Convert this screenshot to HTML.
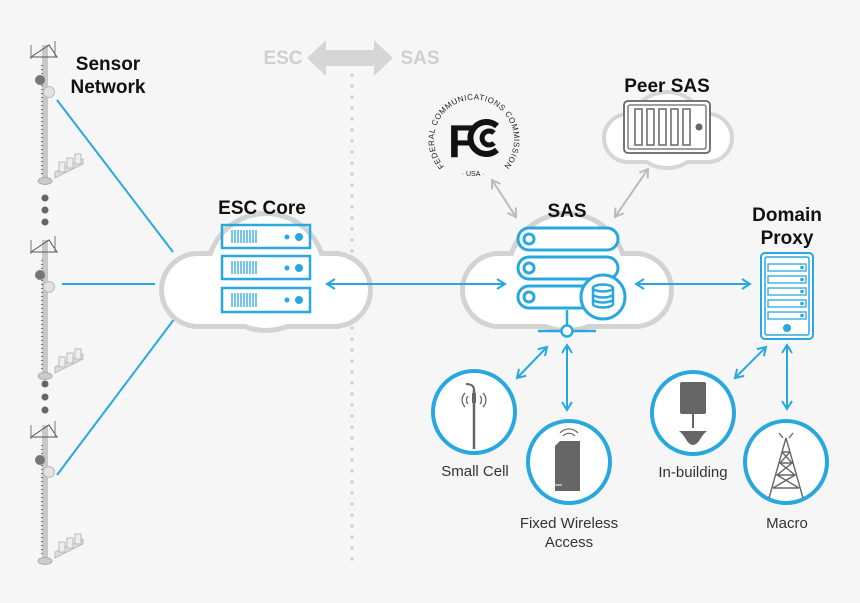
<!DOCTYPE html>
<html><head><meta charset="utf-8"><style>
html,body{margin:0;padding:0;background:#f6f6f6;}
svg{display:block;font-family:"Liberation Sans",sans-serif;}
</style></head><body>
<svg width="860" height="603" viewBox="0 0 860 603" xmlns="http://www.w3.org/2000/svg">
<defs>
<marker id="ab" markerWidth="12" markerHeight="12" refX="9" refY="6" orient="auto-start-reverse" markerUnits="userSpaceOnUse"><path d="M1,1 L9,6 L1,11" fill="none" stroke="#29a8e0" stroke-width="2"/></marker>
<marker id="ag" markerWidth="12" markerHeight="12" refX="9" refY="6" orient="auto-start-reverse" markerUnits="userSpaceOnUse"><path d="M1,1 L9,6 L1,11" fill="none" stroke="#bbb" stroke-width="2"/></marker>
<g id="tower">
 <rect x="-3" y="0" width="6" height="135" fill="#c8c8c8"/>
 <line x1="-3" y1="20" x2="-3" y2="130" stroke="#777" stroke-width="2" stroke-dasharray="1 3"/>
 <path d="M-14,12 L4,0 L12,12 Z" fill="none" stroke="#555" stroke-width="1"/>
 <line x1="-14" y1="0" x2="-14" y2="14" stroke="#777"/><line x1="10" y1="-4" x2="10" y2="12" stroke="#777"/>
 <circle cx="-5" cy="35" r="5" fill="#777"/><circle cx="4" cy="47" r="5.5" fill="#e2e2e2" stroke="#bbb"/>
 <ellipse cx="0" cy="136" rx="7" ry="3.5" fill="#ccc" stroke="#aaa"/>
 <path d="M10,127 L38,114 L38,119 L10,133 Z" fill="#ddd" stroke="#bbb"/>
 <rect x="14" y="117" width="6" height="10" fill="#eee" stroke="#bbb"/><rect x="22" y="113" width="6" height="10" fill="#eee" stroke="#bbb"/><rect x="30" y="109" width="6" height="10" fill="#eee" stroke="#bbb"/>
</g>
<g id="cloudg">
 <circle cx="266" cy="272" r="56"/><circle cx="198" cy="290" r="34"/><circle cx="334" cy="290" r="34"/><rect x="198" y="256" width="136" height="68"/>
</g>
</defs>

<use href="#tower" x="45" y="45"/>
<use href="#tower" x="45" y="240"/>
<use href="#tower" x="45" y="425"/>
<g fill="#666"><circle cx="45" cy="198" r="3.5"/><circle cx="45" cy="210" r="3.5"/><circle cx="45" cy="222" r="3.5"/>
<circle cx="45" cy="384" r="3.5"/><circle cx="45" cy="397" r="3.5"/><circle cx="45" cy="410" r="3.5"/></g>
<text x="108" y="70" font-size="19" font-weight="bold" text-anchor="middle" fill="#111">Sensor</text>
<text x="108" y="93" font-size="19" font-weight="bold" text-anchor="middle" fill="#111">Network</text>

<text x="283" y="64" font-size="19" font-weight="bold" text-anchor="middle" fill="#cfcfcf">ESC</text>
<text x="420" y="64" font-size="19" font-weight="bold" text-anchor="middle" fill="#cfcfcf">SAS</text>
<path d="M307,58 L326,40 L326,50 L374,50 L374,40 L393,58 L374,76 L374,66 L326,66 L326,76 Z" fill="#d6d6d6"/>
<line x1="352" y1="75" x2="352" y2="560" stroke="#d0d0d0" stroke-width="3.5" stroke-linecap="round" stroke-dasharray="0 11"/>

<g stroke="#29a8e0" stroke-width="2" fill="none">
<line x1="57" y1="100" x2="173" y2="252"/>
<line x1="62" y1="284" x2="155" y2="284"/>
<line x1="57" y1="475" x2="175" y2="318"/>
</g>

<!-- clouds -->
<g fill="#d3d3d3" stroke="#d3d3d3" stroke-width="10"><use href="#cloudg"/><use href="#cloudg" x="301"/></g>
<g fill="#fff"><use href="#cloudg"/><use href="#cloudg" x="301"/></g>

<!-- ESC Core -->
<text x="262" y="214" font-size="19" font-weight="bold" text-anchor="middle" fill="#111">ESC Core</text>
<g stroke="#29a8e0" fill="none" stroke-width="2.5">
<rect x="222" y="225" width="88" height="23"/><rect x="222" y="256" width="88" height="23"/><rect x="222" y="288" width="88" height="24"/>
</g>
<g stroke="#29a8e0" stroke-width="1.3">
<path d="M232,230v13M235,230v13M238,230v13M241,230v13M244,230v13M247,230v13M250,230v13M253,230v13M256,230v13"/>
<path d="M232,261v13M235,261v13M238,261v13M241,261v13M244,261v13M247,261v13M250,261v13M253,261v13M256,261v13"/>
<path d="M232,293v14M235,293v14M238,293v14M241,293v14M244,293v14M247,293v14M250,293v14M253,293v14M256,293v14"/>
</g>
<g fill="#29a8e0"><circle cx="287" cy="237" r="2.5"/><circle cx="299" cy="237" r="4"/><circle cx="287" cy="268" r="2.5"/><circle cx="299" cy="268" r="4"/><circle cx="287" cy="300" r="2.5"/><circle cx="299" cy="300" r="4"/></g>

<line x1="327" y1="284" x2="505" y2="284" stroke="#29a8e0" stroke-width="2" marker-start="url(#ab)" marker-end="url(#ab)"/>

<!-- SAS -->
<text x="567" y="217" font-size="19" font-weight="bold" text-anchor="middle" fill="#111">SAS</text>
<g stroke="#29a8e0" fill="#fff" stroke-width="3">
<rect x="518" y="228" width="100" height="22" rx="11"/><rect x="518" y="257" width="100" height="22" rx="11"/><rect x="518" y="286" width="100" height="22" rx="11"/>
<circle cx="529" cy="239" r="5"/><circle cx="529" cy="268" r="5"/><circle cx="529" cy="297" r="5"/>
<circle cx="603" cy="297" r="22"/>
</g>
<g stroke="#29a8e0" fill="none" stroke-width="2.5">
<ellipse cx="603" cy="288" rx="10" ry="3.5"/><path d="M593,288v16a10,3.5 0 0 0 20,0v-16M593,294a10,3.5 0 0 0 20,0M593,299a10,3.5 0 0 0 20,0"/>
<line x1="567" y1="310" x2="567" y2="325"/><line x1="538" y1="331" x2="596" y2="331"/>
</g>
<circle cx="567" cy="331" r="5.5" fill="#fff" stroke="#29a8e0" stroke-width="2.5"/>

<line x1="636" y1="284" x2="750" y2="284" stroke="#29a8e0" stroke-width="2" marker-start="url(#ab)" marker-end="url(#ab)"/>

<!-- Domain Proxy -->
<text x="787" y="221" font-size="19" font-weight="bold" text-anchor="middle" fill="#111">Domain</text>
<text x="787" y="244" font-size="19" font-weight="bold" text-anchor="middle" fill="#111">Proxy</text>
<rect x="761" y="253" width="52" height="86" rx="4" fill="#fff" stroke="#29a8e0" stroke-width="2"/>
<rect x="765" y="257" width="44" height="78" rx="2" fill="none" stroke="#29a8e0" stroke-width="1.5"/>
<g stroke="#29a8e0" fill="none" stroke-width="1.3"><rect x="768" y="264" width="38" height="7"/><rect x="768" y="276" width="38" height="7"/><rect x="768" y="288" width="38" height="7"/><rect x="768" y="300" width="38" height="7"/><rect x="768" y="312" width="38" height="7"/></g>
<g fill="#29a8e0"><circle cx="802" cy="267.5" r="1.8"/><circle cx="802" cy="279.5" r="1.8"/><circle cx="802" cy="291.5" r="1.8"/><circle cx="802" cy="303.5" r="1.8"/><circle cx="802" cy="315.5" r="1.8"/><circle cx="787" cy="328" r="4"/></g>

<!-- Peer SAS -->
<g fill="#d6d6d6" stroke="#d6d6d6" stroke-width="8">
<circle cx="667" cy="130" r="36"/><circle cx="628" cy="138" r="22"/><circle cx="708" cy="138" r="22"/><rect x="628" y="120" width="80" height="40"/>
</g>
<g fill="#fff">
<circle cx="667" cy="130" r="36"/><circle cx="628" cy="138" r="22"/><circle cx="708" cy="138" r="22"/><rect x="628" y="120" width="80" height="40"/>
</g>
<text x="667" y="92" font-size="19" font-weight="bold" text-anchor="middle" fill="#111">Peer SAS</text>
<rect x="624" y="101" width="86" height="52" rx="4" fill="#fff" stroke="#666" stroke-width="1.8"/>
<rect x="628" y="105" width="78" height="44" rx="2" fill="none" stroke="#666" stroke-width="1.3"/>
<g stroke="#666" fill="none" stroke-width="1.5"><rect x="635" y="109" width="7" height="36"/><rect x="647" y="109" width="7" height="36"/><rect x="659" y="109" width="7" height="36"/><rect x="671" y="109" width="7" height="36"/><rect x="683" y="109" width="7" height="36"/></g>
<circle cx="699" cy="127" r="3.5" fill="#666"/>

<!-- FCC -->
<path id="fccarc" d="M448,170 A40,40 0 1 1 500,170" fill="none"/>
<text font-size="8" fill="#222" text-anchor="middle" letter-spacing="0.5"><textPath href="#fccarc" startOffset="50%">FEDERAL COMMUNICATIONS COMMISSION</textPath></text>
<text x="473" y="176" font-size="7" fill="#222" text-anchor="middle">· USA ·</text>
<text x="448" y="157" font-size="46" font-weight="bold" fill="#111">F</text>
<path d="M497,126 a16,16 0 1 0 0,24" fill="none" stroke="#111" stroke-width="6"/>
<path d="M494,133 a7,7 0 1 0 0,10" fill="none" stroke="#111" stroke-width="5"/>

<line x1="492" y1="180" x2="516" y2="217" stroke="#bbb" stroke-width="2" marker-start="url(#ag)" marker-end="url(#ag)"/>
<line x1="648" y1="169" x2="615" y2="217" stroke="#bbb" stroke-width="2" marker-start="url(#ag)" marker-end="url(#ag)"/>

<g stroke="#29a8e0" stroke-width="2" marker-start="url(#ab)" marker-end="url(#ab)">
<line x1="547" y1="347" x2="517" y2="378"/>
<line x1="567" y1="345" x2="567" y2="410"/>
<line x1="766" y1="347" x2="735" y2="378"/>
<line x1="787" y1="345" x2="787" y2="409"/>
</g>

<g fill="#fff" stroke="#29a8e0" stroke-width="4">
<circle cx="474" cy="412" r="41"/><circle cx="569" cy="462" r="41"/><circle cx="693" cy="413" r="41"/><circle cx="786" cy="462" r="41"/>
</g>
<g stroke="#666" fill="none" stroke-width="2">
<line x1="474" y1="390" x2="474" y2="449" stroke-width="2.5"/><path d="M474,390 q0,-6 -8,-6"/>
<path d="M468,396a6,6 0 0 0 0,8M480,396a6,6 0 0 1 0,8M465,393a10,10 0 0 0 0,14M483,393a10,10 0 0 1 0,14" stroke-width="1.3"/>
</g>
<rect x="472" y="393" width="4" height="10" fill="#666"/>
<path d="M555,446 l5,-5 h20 v50 h-25 z" fill="#666"/>
<path d="M563,436a8,8 0 0 1 12,0M560,433a12,12 0 0 1 18,0" stroke="#666" fill="none" stroke-width="1.2"/>
<line x1="555" y1="485" x2="562" y2="485" stroke="#fff"/>
<rect x="680" y="382" width="26" height="32" rx="2" fill="#666"/>
<line x1="693" y1="414" x2="693" y2="428" stroke="#666" stroke-width="2"/>
<path d="M679,431 h28 q-4,3 -8,10 q-6,8 -12,0 q-4,-7 -8,-10z" fill="#666"/>
<g stroke="#666" fill="none" stroke-width="1.4">
<path d="M786,438 L769,498 M786,438 L803,498 M782,452h8M780,463h12M777,475h18M773,488h26M782,452l10,11l-15,12l22,13M790,452l-10,11l15,12l-22,13"/>
<path d="M779,433l4,5M793,433l-4,5"/>
</g>

<g font-size="15" fill="#333" text-anchor="middle">
<text x="475" y="476">Small Cell</text>
<text x="569" y="528">Fixed Wireless</text>
<text x="569" y="547">Access</text>
<text x="693" y="477">In-building</text>
<text x="787" y="528">Macro</text>
</g>
</svg>
</body></html>
